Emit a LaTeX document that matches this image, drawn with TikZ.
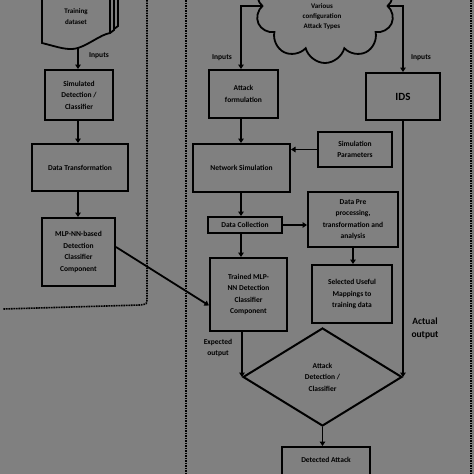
\documentclass[tikz,border=0pt]{standalone}
\usepackage{fontspec}
\setmainfont{Carlito}
\usetikzlibrary{arrows.meta,shapes.geometric,shapes.symbols}
\definecolor{bg}{RGB}{128,128,128}
\tikzset{
  box/.style={draw=black, line width=2pt, align=center, inner sep=1pt,
    font=\fontsize{7.5}{11.5}\selectfont\bfseries},
  lbl/.style={align=center, inner sep=0pt, font=\fontsize{7.5}{11}\selectfont\bfseries},
  arr/.style={draw=black, line width=1.8pt, -{Triangle[length=4.5pt,width=5.5pt]}},
  ln/.style={draw=black, line width=1.8pt},
  dotline/.style={draw=black, line width=1.6pt, dash pattern=on 1.6pt off 0.9pt},
}
\begin{document}
\begin{tikzpicture}[x=1pt,y=-1pt]
\fill[bg] (0,0) rectangle (474,474);
\useasboundingbox (0,0) rectangle (474,474);
\begin{scope}
\clip (0,0) rectangle (474,474);
% region borders
\draw[dotline] (147,-5) -- (147,299) .. controls (147,304) .. (140,305) -- (3,309);
\draw[dotline] (186,-5) -- (186,480);
\draw[dotline] (471,-5) -- (471,480);

% training dataset document
\draw[ln] (42,-5) -- (42,43) .. controls (58,47) and (68,51) .. (78,48)
  .. controls (90,44) and (100,35) .. (110,33) -- (110,-5);
\draw[ln] (110,-5) -| (114,30) -- (110,33);
\draw[ln] (114,-5) -| (118,26) -- (114,29);
\node[lbl, font=\fontsize{7}{11}\selectfont\bfseries] (doctxt) at (76,17) {Training\\dataset};
\coordinate (docb) at (78,48);

% cloud
\node[cloud, cloud puffs=10, cloud ignores aspect, draw=black, line width=1.8pt,
  minimum width=140pt, minimum height=114pt] (cloud) at (325,6) {};
\node[lbl, font=\fontsize{7}{10}\selectfont\bfseries] (cloudtxt) at (322,17) {Various\\configuration\\Attack Types};

% left panel boxes
\node[box, minimum width=68pt, minimum height=50pt] (sim) at (79,95) {Simulated\\Detection /\\Classifier};
\node[box, minimum width=96pt, minimum height=47pt] (trans) at (80,167.5) {Data Transformation};
\node[box, minimum width=73pt, minimum height=68pt] (mlp) at (78.5,252) {MLP-NN-based\\Detection\\Classifier\\Component};

% right panel boxes
\node[box, minimum width=69pt, minimum height=48pt] (att) at (243.5,94) {Attack\\formulation};
\node[box, minimum width=74pt, minimum height=47pt, font=\fontsize{11}{12}\selectfont\bfseries] (ids) at (403,96.5) {IDS};
\node[box, minimum width=97pt, minimum height=48pt] (netsim) at (241.5,168) {Network Simulation};
\node[box, minimum width=74pt, minimum height=35pt] (simpar) at (355,149.5) {Simulation\\Parameters};
\node[box, minimum width=74pt, minimum height=16pt] (dcoll) at (245,225) {Data Collection};
\node[box, minimum width=90pt, minimum height=55pt] (dpre) at (353,219.5) {Data Pre\\processing,\\transformation and\\analysis};
\node[box, minimum width=80pt, minimum height=58pt] (sel) at (352,294) {Selected Useful\\Mappings to\\training data};
\node[box, minimum width=77pt, minimum height=73pt] (trained) at (248.5,294.5) {Trained MLP-\\NN Detection\\Classifier\\Component};
\node[box, diamond, inner sep=0pt, minimum width=159pt, minimum height=98pt] (dia) at (322.5,377) {Attack\\Detection /\\Classifier};
\node[box, minimum width=88pt, minimum height=42pt] (det) at (326,468) {};
\node[lbl] (dettxt) at (326,460) {Detected Attack};

\coordinate (colx) at (241,0);

% labels
\node[lbl] (in1) at (99,56) {Inputs};
\node[lbl] (in2) at (222,58) {Inputs};
\node[lbl] (in3) at (421,58) {Inputs};
\node[lbl] (exp) at (218,348) {Expected\\output};
\node[lbl, font=\fontsize{9.5}{13}\selectfont\bfseries] (act) at (425,328) {Actual\\output};

% connectors left
\draw[arr] (docb) -- (docb |- sim.north);
\draw[arr] (sim.south -| docb) -- (trans.north -| docb);
\draw[arr] (trans.south -| docb) -- (mlp.north -| docb);
\draw[arr] ([yshift=5pt]mlp.east) -- ([yshift=-11pt]trained.west);

% connectors right
\draw[arr] (cloud.west) -- (cloud.west -| colx) -- (att.north -| colx);
\draw[arr] (cloud.east) -- (cloud.east -| dia.east) -- (ids.north -| dia.east);
\draw[arr] (att.south -| colx) -- (netsim.north -| colx);
\draw[arr] (simpar.west) -- (simpar.west -| netsim.east);
\draw[arr] (netsim.south -| colx) -- (dcoll.north -| colx);
\draw[arr] (dcoll.east) -- (dcoll.east -| dpre.west);
\draw[arr] (dpre.south) -- (dpre.south |- sel.north);
\draw[arr] (dcoll.south -| colx) -- (trained.north -| colx);
\draw[arr] (trained.south -| dia.west) -- (dia.west);
\draw[arr] (ids.south -| dia.east) -- (dia.east);
\draw[arr] (dia.south) -- (dia.south |- det.north);
\end{scope}
\end{tikzpicture}
\end{document}
